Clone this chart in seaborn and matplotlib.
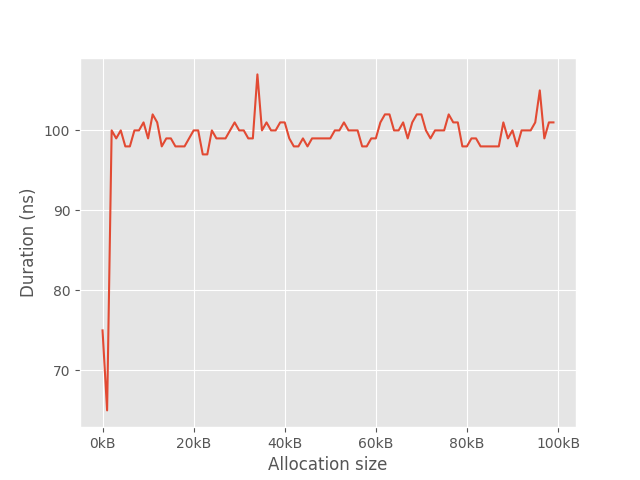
import matplotlib
matplotlib.use("Agg")
import matplotlib.pyplot as plt
import matplotlib.ticker as mticker
import pandas as pd
import seaborn as sns

# allocation sizes in bytes, 0..99kB in 1kB steps
sizes = [k * 1000 for k in range(100)]

# measured duration per allocation size (ns)
durations = [
    75, 65, 100, 99, 100, 98, 98, 100, 100, 101,
    99, 102, 101, 98, 99, 99, 98, 98, 98, 99,
    100, 100, 97, 97, 100, 99, 99, 99, 100, 101,
    100, 100, 99, 99, 107, 100, 101, 100, 100, 101,
    101, 99, 98, 98, 99, 98, 99, 99, 99, 99,
    99, 100, 100, 101, 100, 100, 100, 98, 98, 99,
    99, 101, 102, 102, 100, 100, 101, 99, 101, 102,
    102, 100, 99, 100, 100, 100, 102, 101, 101, 98,
    98, 99, 99, 98, 98, 98, 98, 98, 101, 99,
    100, 98, 100, 100, 100, 101, 105, 99, 101, 101,
]

plt.style.use("ggplot")

df = pd.DataFrame({"size": sizes, "duration": durations})

fig, ax = plt.subplots(figsize=(6.4, 4.8), dpi=100)
sns.lineplot(data=df, x="size", y="duration", ax=ax, color="#E24A33")

ax.xaxis.set_major_formatter(
    mticker.FuncFormatter(lambda v, pos: f"{v / 1000:.0f}kB")
)
ax.set_xlabel("Allocation size")
ax.set_ylabel("Duration (ns)")

fig.savefig("out.png", dpi=100)
